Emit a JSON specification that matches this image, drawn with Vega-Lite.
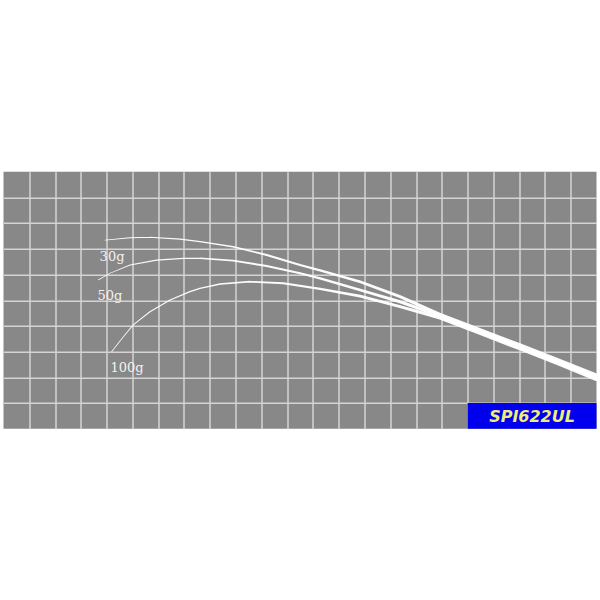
{
  "$schema": "https://vega.github.io/schema/vega-lite/v6.json",
  "autosize": "none",
  "width": 593,
  "height": 257,
  "padding": {"left": 3.5, "top": 171.7, "right": 3.5, "bottom": 171.3},
  "background": "white",
  "config": {
    "view": {"fill": "#888888", "stroke": null},
    "axis": {"domain": false, "ticks": false, "labels": false, "labelOverlap": false, "title": null, "grid": true, "gridColor": "#d4d4d4", "gridWidth": 1.5, "gridOpacity": 1}
  },
  "datasets": {
    "curves": [
      {"series": "30g", "x": 3.94, "y": 7.34},
      {"series": "30g", "x": 4.91, "y": 7.43},
      {"series": "30g", "x": 5.68, "y": 7.45},
      {"series": "30g", "x": 6.85, "y": 7.38},
      {"series": "30g", "x": 7.62, "y": 7.28},
      {"series": "30g", "x": 8.91, "y": 7.08},
      {"series": "30g", "x": 10.21, "y": 6.76},
      {"series": "30g", "x": 11.5, "y": 6.37},
      {"series": "30g", "x": 12.28, "y": 6.16},
      {"series": "30g", "x": 13.83, "y": 5.72},
      {"series": "30g", "x": 15.38, "y": 5.14},
      {"series": "30g", "x": 16.93, "y": 4.44},
      {"series": "30g", "x": 18.48, "y": 3.84},
      {"series": "30g", "x": 20.04, "y": 3.24},
      {"series": "30g", "x": 21.59, "y": 2.63},
      {"series": "30g", "x": 22.98, "y": 2.07},
      {"series": "50g", "x": 3.68, "y": 5.79},
      {"series": "50g", "x": 4.13, "y": 6.05},
      {"series": "50g", "x": 4.91, "y": 6.37},
      {"series": "50g", "x": 5.94, "y": 6.56},
      {"series": "50g", "x": 6.97, "y": 6.63},
      {"series": "50g", "x": 7.62, "y": 6.63},
      {"series": "50g", "x": 8.91, "y": 6.54},
      {"series": "50g", "x": 10.21, "y": 6.33},
      {"series": "50g", "x": 11.5, "y": 6.05},
      {"series": "50g", "x": 12.28, "y": 5.85},
      {"series": "50g", "x": 13.83, "y": 5.4},
      {"series": "50g", "x": 15.38, "y": 4.94},
      {"series": "50g", "x": 16.93, "y": 4.39},
      {"series": "50g", "x": 18.48, "y": 3.78},
      {"series": "50g", "x": 20.04, "y": 3.18},
      {"series": "50g", "x": 21.59, "y": 2.58},
      {"series": "50g", "x": 22.98, "y": 2.01},
      {"series": "100g", "x": 4.2, "y": 3.0},
      {"series": "100g", "x": 4.65, "y": 3.58},
      {"series": "100g", "x": 5.03, "y": 4.04},
      {"series": "100g", "x": 5.68, "y": 4.55},
      {"series": "100g", "x": 6.46, "y": 5.01},
      {"series": "100g", "x": 7.23, "y": 5.33},
      {"series": "100g", "x": 7.62, "y": 5.46},
      {"series": "100g", "x": 8.4, "y": 5.63},
      {"series": "100g", "x": 9.56, "y": 5.72},
      {"series": "100g", "x": 10.85, "y": 5.66},
      {"series": "100g", "x": 12.28, "y": 5.44},
      {"series": "100g", "x": 13.83, "y": 5.16},
      {"series": "100g", "x": 15.38, "y": 4.75},
      {"series": "100g", "x": 16.93, "y": 4.31},
      {"series": "100g", "x": 18.48, "y": 3.72},
      {"series": "100g", "x": 20.04, "y": 3.12},
      {"series": "100g", "x": 21.59, "y": 2.52},
      {"series": "100g", "x": 22.98, "y": 1.95}
    ],
    "labels": [
      {"label": "30g", "x": 4.21, "y": 6.68},
      {"label": "50g", "x": 4.13, "y": 5.16},
      {"label": "100g", "x": 4.79, "y": 2.36}
    ],
    "badge": [
      {"name": "SPI622UL", "x": 18, "x2": 23, "y": 0, "y2": 1, "xc": 20.5, "yc": 0.5}
    ]
  },
  "layer": [
    {
      "data": {"name": "curves"},
      "mark": {"type": "trail", "color": "white", "opacity": 0.97},
      "encoding": {
        "x": {"field": "x", "type": "quantitative", "scale": {"domain": [0, 23], "nice": false, "zero": false}, "axis": {"values": [1,2,3,4,5,6,7,8,9,10,11,12,13,14,15,16,17,18,19,20,21,22], "tickCount": 23}},
        "y": {"field": "y", "type": "quantitative", "scale": {"domain": [0, 10], "nice": false, "zero": false}, "axis": {"values": [1,2,3,4,5,6,7,8,9], "tickCount": 10}},
        "detail": {"field": "series", "type": "nominal"},
        "order": {"field": "x", "type": "quantitative"},
        "size": {"field": "x", "type": "quantitative", "scale": {"domain": [3.5, 23], "range": [0.6, 4.5], "zero": false}, "legend": null}
      }
    },
    {
      "data": {"name": "labels"},
      "mark": {"type": "text", "font": "DejaVu Serif", "fontSize": 13, "color": "#f2f2f2", "align": "center", "baseline": "middle"},
      "encoding": {
        "x": {"field": "x", "type": "quantitative"},
        "y": {"field": "y", "type": "quantitative"},
        "text": {"field": "label"}
      }
    },
    {
      "data": {"name": "badge"},
      "mark": {"type": "rect", "color": "#0000ee"},
      "encoding": {
        "x": {"field": "x", "type": "quantitative"},
        "x2": {"field": "x2"},
        "y": {"field": "y", "type": "quantitative"},
        "y2": {"field": "y2"}
      }
    },
    {
      "data": {"name": "badge"},
      "mark": {"type": "text", "font": "DejaVu Sans", "fontSize": 16, "fontWeight": "bold", "fontStyle": "italic", "color": "#eeee77", "align": "center", "baseline": "middle", "dy": 1},
      "encoding": {
        "x": {"field": "xc", "type": "quantitative"},
        "y": {"field": "yc", "type": "quantitative"},
        "text": {"field": "name"}
      }
    }
  ]
}
